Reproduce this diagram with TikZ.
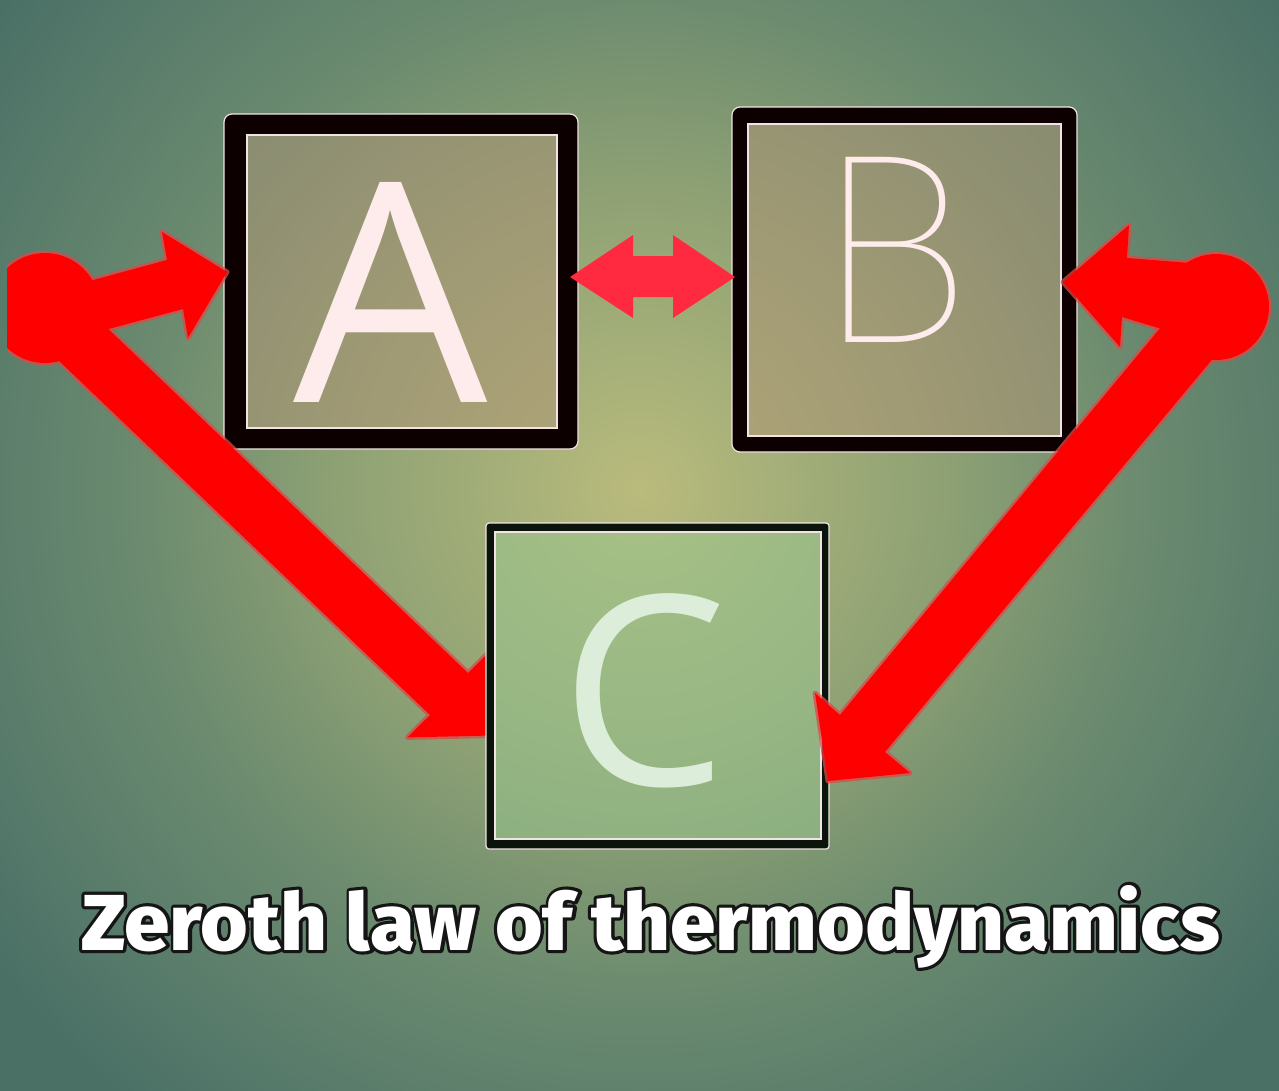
\documentclass[tikz,border=0pt]{standalone}
\usepackage{fontspec}
\usepackage{graphicx}
\usetikzlibrary{calc}
\newfontfamily\letterfont{Open Sans}
\IfFontExistsTF{Fira Sans Thin}{\newfontfamily\thinfont{Fira Sans Thin}}{%
 \IfFontExistsTF{Lato Hairline}{\newfontfamily\thinfont{Lato Hairline}}{%
  \IfFontExistsTF{DejaVu Sans ExtraLight}{\newfontfamily\thinfont{DejaVu Sans ExtraLight}}{%
   \IfFontExistsTF{Fira Sans Light}{\newfontfamily\thinfont{Fira Sans Light}}{%
    \newfontfamily\thinfont{Open Sans}}}}}
\IfFontExistsTF{Fira Sans ExtraBold}{\newfontfamily\titlefont{Fira Sans ExtraBold}}{%
  \newfontfamily\titlefont{Fira Sans}[UprightFont={* Bold}]}
\definecolor{bg0}{HTML}{BABB7C}
\definecolor{bg1}{HTML}{ABB37A}
\definecolor{bg2}{HTML}{8EA174}
\definecolor{bg3}{HTML}{6C8B6F}
\definecolor{bg4}{HTML}{55796A}
\definecolor{bg5}{HTML}{4A6F65}
\definecolor{redfill}{HTML}{FF0000}
\definecolor{redline}{HTML}{D94A4A}
\definecolor{dbl}{HTML}{FF2A3F}
\definecolor{frameAB}{HTML}{0C0000}
\definecolor{frameC}{HTML}{0A140A}
\definecolor{letA}{HTML}{FEECEC}
\definecolor{letC}{HTML}{DCEEDA}
\definecolor{ovAB}{HTML}{AF9375}
\definecolor{ovC}{HTML}{99C891}
\definecolor{boxline}{HTML}{F2E4E4}
\definecolor{titleline}{HTML}{151515}
\pgfdeclareradialshading{bgshade}{\pgfpoint{0bp}{0bp}}{color(0bp)=(bg0); color(3bp)=(bg1); color(9.5bp)=(bg2); color(15.5bp)=(bg3); color(22bp)=(bg4); color(25bp)=(bg5); color(50bp)=(bg5)}
\tikzset{
  redout/.style={draw=redline, line width=5pt, line join=round, draw opacity=0.75},
  redin/.style={fill=redfill},
  inbox/.style={draw=boxline, line width=1.5pt, inner sep=0pt},
  outline/.style={draw=boxline, line width=1.2pt},
  bigletter/.style={anchor=base, inner sep=0pt}
}
\newcommand{\titletext}{Zeroth law of thermodynamics}
\begin{document}
\begin{tikzpicture}[x=1pt,y=-1pt]
\useasboundingbox (0,0) rectangle (1279,1090);
\begin{scope}
\clip (0,0) rectangle (1279,1090);
\shade[shading=bgshade] (-160,-310) rectangle (1440,1290);
\end{scope}

% Box A
\fill[frameAB, even odd rule] [rounded corners=8pt] (224,114) rectangle (578,449) [sharp corners] (247,135) rectangle (557,428);
\node[inbox, fill=ovAB, fill opacity=0.5, minimum width=310pt, minimum height=293pt] (A) at (402,281.5) {};
\draw[outline, rounded corners=8pt] (224,114) rectangle (578,449);
\node[bigletter, text=letA, font=\letterfont\fontsize{307}{307}\selectfont] (la) at (390.5,402) {A};

% Box B
\fill[frameAB, even odd rule] [rounded corners=8pt] (732,107) rectangle (1077,452) [sharp corners] (748,124) rectangle (1061,436);
\node[inbox, fill=ovAB, fill opacity=0.5, minimum width=313pt, minimum height=312pt] (B) at (904.5,280) {};
\draw[outline, rounded corners=8pt] (732,107) rectangle (1077,452);
\node[bigletter, text=letA, font=\thinfont\fontsize{272}{272}\selectfont] (lb) at (892,342) {B};

% left red arrows (under C)
\begin{scope}
\clip (7,0) rectangle (1279,1090);
\draw[redout] (45,308) circle[radius=55];
\end{scope}
\draw[redout] (60,289) -- (167,260) -- (162,232) -- (227,272) -- (188,338) -- (183,309) -- (60,342) -- cycle;
\draw[redout] (78,300) -- (468,673) -- (490.5,650.6) -- (492,735.5) -- (407.5,737.4) -- (430,715) -- (34,337) -- cycle;
\begin{scope}
\clip (7,0) rectangle (1279,1090);
\fill[redin] (45,308) circle[radius=55];
\end{scope}
\fill[redin] (60,289) -- (167,260) -- (162,232) -- (227,272) -- (188,338) -- (183,309) -- (60,342) -- cycle;
\fill[redin] (78,300) -- (468,673) -- (490.5,650.6) -- (492,735.5) -- (407.5,737.4) -- (430,715) -- (34,337) -- cycle;

% Box C
\fill[frameC, even odd rule] [rounded corners=3pt] (486,523) rectangle (829,849) [sharp corners] (495,532) rectangle (821,839);
\node[inbox, fill=ovC, fill opacity=0.5, minimum width=326pt, minimum height=307pt] (C) at (658,685.5) {};
\draw[outline, rounded corners=3pt] (486,523) rectangle (829,849);
\node[bigletter, text=letC, font=\letterfont\fontsize{265}{265}\selectfont] (lc) at (644.5,785) {C};

% right red arrows (over B and C)
\draw[redout] (1216,307) circle[radius=53];
\draw[redout] (1200,320) -- (1190,263) -- (1127,258) -- (1129,225) -- (1063,282) -- (1120,347) -- (1122,317) -- (1165,330) -- cycle;
\draw[redout] (1190,292) -- (840,715) -- (815,693) -- (828,781) -- (910,773) -- (885,752) -- (1230,338) -- cycle;
\fill[redin] (1216,307) circle[radius=53];
\fill[redin] (1200,320) -- (1190,263) -- (1127,258) -- (1129,225) -- (1063,282) -- (1120,347) -- (1122,317) -- (1165,330) -- cycle;
\fill[redin] (1190,292) -- (840,715) -- (815,693) -- (828,781) -- (910,773) -- (885,752) -- (1230,338) -- cycle;

% double arrow A <-> B
\fill[dbl] (570,277) -- (633,235) -- (633,256) -- (673,256) -- (673,235) -- (735,277) -- (673,318) -- (673,297) -- (633,297) -- (633,318) -- cycle;

% title: dark stroked copy under a white copy
\node[anchor=base west, inner sep=0pt, text=titleline] (titleedge) at (81,950) {\special{pdf:literal direct 2 Tr 0.8 w 1 j}\resizebox{1138pt}{65pt}{\titlefont\titletext}\special{pdf:literal direct 0 Tr}};
\node[anchor=base west, inner sep=0pt, text=white] (title) at (81,950) {\resizebox{1138pt}{65pt}{\titlefont\titletext}};
\end{tikzpicture}
\end{document}
